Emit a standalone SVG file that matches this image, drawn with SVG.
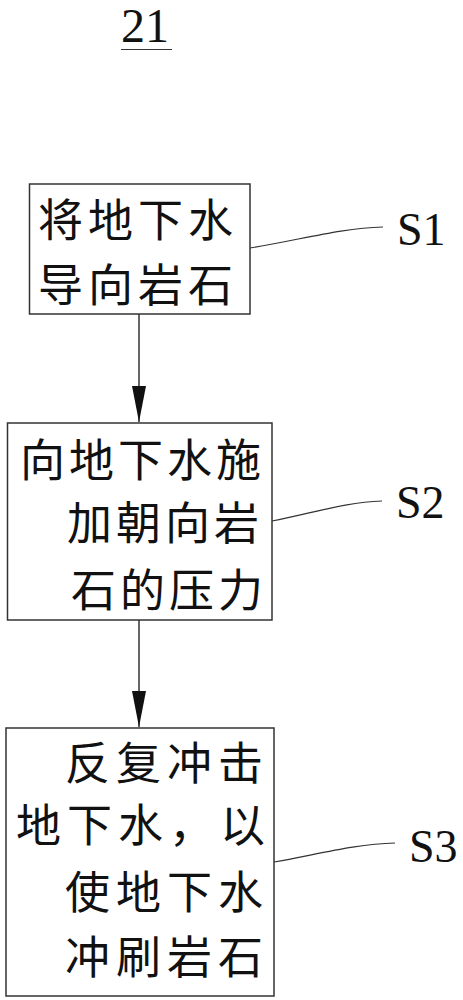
<svg xmlns="http://www.w3.org/2000/svg" width="463" height="1000" viewBox="0 0 463 1000">
<defs>
<style>
.box{fill:#fff;stroke:#333;stroke-width:1.5}
.cjk{font-family:"Noto Sans CJK SC","Noto Sans CJK JP",sans-serif;font-size:45px;fill:#111}
.lbl{font-family:"Liberation Serif","Times New Roman",serif;font-size:46px;fill:#111}
.lead{fill:none;stroke:#333;stroke-width:1.2}
.conn{stroke:#333;stroke-width:1.5;fill:none}
</style>
<marker id="arr" markerUnits="userSpaceOnUse" markerWidth="36" markerHeight="14" refX="36" refY="7" orient="auto" viewBox="0 0 36 14">
<path d="M0,0 L36,7 L0,14 Z" fill="#111"/>
</marker>
</defs>
<rect width="463" height="1000" fill="#fff"/>
<g id="title">
<text x="121" y="42" class="lbl" style="font-size:48px">21</text>
<line x1="121" y1="49.500" x2="172" y2="49.500" stroke="#333" stroke-width="1.2"/>
</g>
<g id="connectors">
<line class="conn" x1="139" y1="314" x2="139" y2="422" marker-end="url(#arr)"/>
<line class="conn" x1="139" y1="620" x2="139" y2="727" marker-end="url(#arr)"/>
</g>
<g id="S1">
<rect class="box" x="29.500" y="184" width="220.500" height="130"/>
<text class="cjk" x="38" y="237" letter-spacing="5">将地下水</text>
<text class="cjk" x="38" y="302" letter-spacing="5">导向岩石</text>
<path class="lead" d="M250,248 C300,240 340,228 383,227"/>
<text class="lbl" x="397" y="245">S1</text>
</g>
<g id="S2">
<rect class="box" x="7.500" y="423" width="264.500" height="197"/>
<text class="cjk" x="20" y="477" letter-spacing="4">向地下水施</text>
<text class="cjk" x="67" y="540" letter-spacing="4">加朝向岩</text>
<text class="cjk" x="71" y="607" letter-spacing="4">石的压力</text>
<path class="lead" d="M272,521 C310,514 345,502 382,501"/>
<text class="lbl" x="396" y="518">S2</text>
</g>
<g id="S3">
<rect class="box" x="6" y="728" width="268" height="268"/>
<text class="cjk" x="65" y="780" letter-spacing="6">反复冲击</text>
<text class="cjk" x="16" y="842" letter-spacing="6">地下水，以</text>
<text class="cjk" x="65" y="909" letter-spacing="6">使地下水</text>
<text class="cjk" x="65" y="974" letter-spacing="6">冲刷岩石</text>
<path class="lead" d="M274,862 C315,855 355,844 395,843"/>
<text class="lbl" x="409" y="862">S3</text>
</g>
</svg>
